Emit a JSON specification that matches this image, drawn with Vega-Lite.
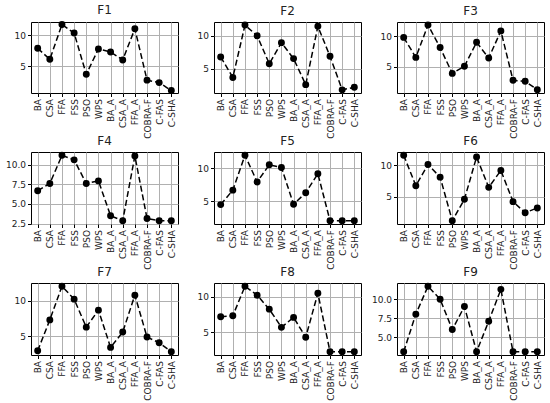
{
  "$schema": "https://vega.github.io/schema/vega-lite/v6.json",
  "padding": {"left": 4, "top": 3, "right": 0, "bottom": 0},
  "data": {
    "values": [
      {"f": "F1", "alg": "BA", "v": 7.9}, {"f": "F1", "alg": "CSA", "v": 6.1}, {"f": "F1", "alg": "FFA", "v": 11.8}, {"f": "F1", "alg": "FSS", "v": 10.4},
      {"f": "F1", "alg": "PSO", "v": 3.65}, {"f": "F1", "alg": "WPS", "v": 7.8}, {"f": "F1", "alg": "BA_A", "v": 7.3}, {"f": "F1", "alg": "CSA_A", "v": 6.0},
      {"f": "F1", "alg": "FFA_A", "v": 11.1}, {"f": "F1", "alg": "COBRA-F", "v": 2.7}, {"f": "F1", "alg": "C-FAS", "v": 2.3}, {"f": "F1", "alg": "C-SHA", "v": 1.0},
      {"f": "F2", "alg": "BA", "v": 6.78}, {"f": "F2", "alg": "CSA", "v": 3.66}, {"f": "F2", "alg": "FFA", "v": 11.63}, {"f": "F2", "alg": "FSS", "v": 10.0},
      {"f": "F2", "alg": "PSO", "v": 5.74}, {"f": "F2", "alg": "WPS", "v": 8.96}, {"f": "F2", "alg": "BA_A", "v": 6.53}, {"f": "F2", "alg": "CSA_A", "v": 2.57},
      {"f": "F2", "alg": "FFA_A", "v": 11.44}, {"f": "F2", "alg": "COBRA-F", "v": 6.88}, {"f": "F2", "alg": "C-FAS", "v": 1.78}, {"f": "F2", "alg": "C-SHA", "v": 2.18},
      {"f": "F3", "alg": "BA", "v": 9.84}, {"f": "F3", "alg": "CSA", "v": 6.52}, {"f": "F3", "alg": "FFA", "v": 11.9}, {"f": "F3", "alg": "FSS", "v": 8.15},
      {"f": "F3", "alg": "PSO", "v": 3.86}, {"f": "F3", "alg": "WPS", "v": 5.05}, {"f": "F3", "alg": "BA_A", "v": 9.02}, {"f": "F3", "alg": "CSA_A", "v": 6.41},
      {"f": "F3", "alg": "FFA_A", "v": 10.92}, {"f": "F3", "alg": "COBRA-F", "v": 2.72}, {"f": "F3", "alg": "C-FAS", "v": 2.55}, {"f": "F3", "alg": "C-SHA", "v": 1.14},
      {"f": "F4", "alg": "BA", "v": 6.67}, {"f": "F4", "alg": "CSA", "v": 7.6}, {"f": "F4", "alg": "FFA", "v": 11.18}, {"f": "F4", "alg": "FSS", "v": 10.6},
      {"f": "F4", "alg": "PSO", "v": 7.6}, {"f": "F4", "alg": "WPS", "v": 7.93}, {"f": "F4", "alg": "BA_A", "v": 3.5}, {"f": "F4", "alg": "CSA_A", "v": 2.87},
      {"f": "F4", "alg": "FFA_A", "v": 11.1}, {"f": "F4", "alg": "COBRA-F", "v": 3.16}, {"f": "F4", "alg": "C-FAS", "v": 2.87}, {"f": "F4", "alg": "C-SHA", "v": 2.87},
      {"f": "F5", "alg": "BA", "v": 4.5}, {"f": "F5", "alg": "CSA", "v": 6.7}, {"f": "F5", "alg": "FFA", "v": 12.0}, {"f": "F5", "alg": "FSS", "v": 7.95},
      {"f": "F5", "alg": "PSO", "v": 10.55}, {"f": "F5", "alg": "WPS", "v": 10.15}, {"f": "F5", "alg": "BA_A", "v": 4.55}, {"f": "F5", "alg": "CSA_A", "v": 6.3},
      {"f": "F5", "alg": "FFA_A", "v": 9.2}, {"f": "F5", "alg": "COBRA-F", "v": 2.05}, {"f": "F5", "alg": "C-FAS", "v": 2.05}, {"f": "F5", "alg": "C-SHA", "v": 2.05},
      {"f": "F6", "alg": "BA", "v": 11.58}, {"f": "F6", "alg": "CSA", "v": 6.74}, {"f": "F6", "alg": "FFA", "v": 10.1}, {"f": "F6", "alg": "FSS", "v": 8.1},
      {"f": "F6", "alg": "PSO", "v": 1.16}, {"f": "F6", "alg": "WPS", "v": 4.58}, {"f": "F6", "alg": "BA_A", "v": 11.3}, {"f": "F6", "alg": "CSA_A", "v": 6.47},
      {"f": "F6", "alg": "FFA_A", "v": 9.16}, {"f": "F6", "alg": "COBRA-F", "v": 4.2}, {"f": "F6", "alg": "C-FAS", "v": 2.42}, {"f": "F6", "alg": "C-SHA", "v": 3.2},
      {"f": "F7", "alg": "BA", "v": 2.92}, {"f": "F7", "alg": "CSA", "v": 7.3}, {"f": "F7", "alg": "FFA", "v": 12.07}, {"f": "F7", "alg": "FSS", "v": 10.24},
      {"f": "F7", "alg": "PSO", "v": 6.27}, {"f": "F7", "alg": "WPS", "v": 8.68}, {"f": "F7", "alg": "BA_A", "v": 3.4}, {"f": "F7", "alg": "CSA_A", "v": 5.57},
      {"f": "F7", "alg": "FFA_A", "v": 10.8}, {"f": "F7", "alg": "COBRA-F", "v": 4.86}, {"f": "F7", "alg": "C-FAS", "v": 4.06}, {"f": "F7", "alg": "C-SHA", "v": 2.78},
      {"f": "F8", "alg": "BA", "v": 7.17}, {"f": "F8", "alg": "CSA", "v": 7.31}, {"f": "F8", "alg": "FFA", "v": 11.5}, {"f": "F8", "alg": "FSS", "v": 10.24},
      {"f": "F8", "alg": "PSO", "v": 8.25}, {"f": "F8", "alg": "WPS", "v": 5.66}, {"f": "F8", "alg": "BA_A", "v": 7.08}, {"f": "F8", "alg": "CSA_A", "v": 4.25},
      {"f": "F8", "alg": "FFA_A", "v": 10.52}, {"f": "F8", "alg": "COBRA-F", "v": 2.2}, {"f": "F8", "alg": "C-FAS", "v": 2.2}, {"f": "F8", "alg": "C-SHA", "v": 2.2},
      {"f": "F9", "alg": "BA", "v": 3.07}, {"f": "F9", "alg": "CSA", "v": 8.03}, {"f": "F9", "alg": "FFA", "v": 11.71}, {"f": "F9", "alg": "FSS", "v": 10.0},
      {"f": "F9", "alg": "PSO", "v": 6.0}, {"f": "F9", "alg": "WPS", "v": 9.04}, {"f": "F9", "alg": "BA_A", "v": 3.07}, {"f": "F9", "alg": "CSA_A", "v": 7.1},
      {"f": "F9", "alg": "FFA_A", "v": 11.3}, {"f": "F9", "alg": "COBRA-F", "v": 3.07}, {"f": "F9", "alg": "C-FAS", "v": 3.07}, {"f": "F9", "alg": "C-SHA", "v": 3.07}
    ]
  },
  "columns": 3,
  "bounds": "flush",
  "spacing": {"row": 59, "column": 36},
  "concat": [
    {"title": {"text": "F1", "fontWeight": "normal"}, "width": 147, "height": 71, "transform": [{"filter": "datum.f == 'F1'"}],
      "mark": {"type": "line", "color": "black", "strokeWidth": 1.5, "strokeDash": [6, 3], "point": {"filled": true, "size": 48, "color": "black"}},
      "encoding": {
        "x": {"field": "alg", "type": "nominal", "sort": null, "scale": {"type": "point", "padding": 0.55}, "title": null},
        "y": {"field": "v", "type": "quantitative", "scale": {"domain": [0.6, 12.2], "nice": false, "zero": false}, "axis": {"values": [5, 10]}, "title": null}}},
    {"title": {"text": "F2", "fontWeight": "normal"}, "width": 147, "height": 71, "transform": [{"filter": "datum.f == 'F2'"}],
      "mark": {"type": "line", "color": "black", "strokeWidth": 1.5, "strokeDash": [6, 3], "point": {"filled": true, "size": 48, "color": "black"}},
      "encoding": {
        "x": {"field": "alg", "type": "nominal", "sort": null, "scale": {"type": "point", "padding": 0.55}, "title": null},
        "y": {"field": "v", "type": "quantitative", "scale": {"domain": [1.3, 12.1], "nice": false, "zero": false}, "axis": {"values": [5, 10]}, "title": null}}},
    {"title": {"text": "F3", "fontWeight": "normal"}, "width": 147, "height": 71, "transform": [{"filter": "datum.f == 'F3'"}],
      "mark": {"type": "line", "color": "black", "strokeWidth": 1.5, "strokeDash": [6, 3], "point": {"filled": true, "size": 48, "color": "black"}},
      "encoding": {
        "x": {"field": "alg", "type": "nominal", "sort": null, "scale": {"type": "point", "padding": 0.55}, "title": null},
        "y": {"field": "v", "type": "quantitative", "scale": {"domain": [0.6, 12.4], "nice": false, "zero": false}, "axis": {"values": [5, 10]}, "title": null}}},
    {"title": {"text": "F4", "fontWeight": "normal"}, "width": 147, "height": 72, "transform": [{"filter": "datum.f == 'F4'"}],
      "mark": {"type": "line", "color": "black", "strokeWidth": 1.5, "strokeDash": [6, 3], "point": {"filled": true, "size": 48, "color": "black"}},
      "encoding": {
        "x": {"field": "alg", "type": "nominal", "sort": null, "scale": {"type": "point", "padding": 0.55}, "title": null},
        "y": {"field": "v", "type": "quantitative", "scale": {"domain": [2.45, 11.6], "nice": false, "zero": false}, "axis": {"values": [2.5, 5, 7.5, 10], "format": ".1f"}, "title": null}}},
    {"title": {"text": "F5", "fontWeight": "normal"}, "width": 147, "height": 72, "transform": [{"filter": "datum.f == 'F5'"}],
      "mark": {"type": "line", "color": "black", "strokeWidth": 1.5, "strokeDash": [6, 3], "point": {"filled": true, "size": 48, "color": "black"}},
      "encoding": {
        "x": {"field": "alg", "type": "nominal", "sort": null, "scale": {"type": "point", "padding": 0.55}, "title": null},
        "y": {"field": "v", "type": "quantitative", "scale": {"domain": [1.55, 12.5], "nice": false, "zero": false}, "axis": {"values": [5, 10]}, "title": null}}},
    {"title": {"text": "F6", "fontWeight": "normal"}, "width": 147, "height": 72, "transform": [{"filter": "datum.f == 'F6'"}],
      "mark": {"type": "line", "color": "black", "strokeWidth": 1.5, "strokeDash": [6, 3], "point": {"filled": true, "size": 48, "color": "black"}},
      "encoding": {
        "x": {"field": "alg", "type": "nominal", "sort": null, "scale": {"type": "point", "padding": 0.55}, "title": null},
        "y": {"field": "v", "type": "quantitative", "scale": {"domain": [0.64, 12.1], "nice": false, "zero": false}, "axis": {"values": [5, 10]}, "title": null}}},
    {"title": {"text": "F7", "fontWeight": "normal"}, "width": 147, "height": 72, "transform": [{"filter": "datum.f == 'F7'"}],
      "mark": {"type": "line", "color": "black", "strokeWidth": 1.5, "strokeDash": [6, 3], "point": {"filled": true, "size": 48, "color": "black"}},
      "encoding": {
        "x": {"field": "alg", "type": "nominal", "sort": null, "scale": {"type": "point", "padding": 0.55}, "title": null},
        "y": {"field": "v", "type": "quantitative", "scale": {"domain": [2.32, 12.53], "nice": false, "zero": false}, "axis": {"values": [5, 10]}, "title": null}}},
    {"title": {"text": "F8", "fontWeight": "normal"}, "width": 147, "height": 72, "transform": [{"filter": "datum.f == 'F8'"}],
      "mark": {"type": "line", "color": "black", "strokeWidth": 1.5, "strokeDash": [6, 3], "point": {"filled": true, "size": 48, "color": "black"}},
      "encoding": {
        "x": {"field": "alg", "type": "nominal", "sort": null, "scale": {"type": "point", "padding": 0.55}, "title": null},
        "y": {"field": "v", "type": "quantitative", "scale": {"domain": [1.73, 11.97], "nice": false, "zero": false}, "axis": {"values": [5, 10]}, "title": null}}},
    {"title": {"text": "F9", "fontWeight": "normal"}, "width": 147, "height": 72, "transform": [{"filter": "datum.f == 'F9'"}],
      "mark": {"type": "line", "color": "black", "strokeWidth": 1.5, "strokeDash": [6, 3], "point": {"filled": true, "size": 48, "color": "black"}},
      "encoding": {
        "x": {"field": "alg", "type": "nominal", "sort": null, "scale": {"type": "point", "padding": 0.55}, "title": null},
        "y": {"field": "v", "type": "quantitative", "scale": {"domain": [2.64, 12.14], "nice": false, "zero": false}, "axis": {"values": [5, 7.5, 10], "format": ".1f"}, "title": null}}}
  ],
  "config": {
    "font": "DejaVu Sans",
    "view": {"stroke": "black", "strokeWidth": 1},
    "axis": {
      "grid": true, "gridColor": "#b0b0b0", "gridWidth": 1, "gridOpacity": 1,
      "domain": false, "tickColor": "black", "tickSize": 3.5,
      "labelColor": "#222222", "labelFont": "DejaVu Sans", "labelFontSize": 9, "labelPadding": 2
    },
    "axisX": {"labelAngle": 270},
    "title": {"font": "DejaVu Sans", "fontSize": 12, "fontWeight": "normal", "color": "#222222", "offset": 4}
  }
}
